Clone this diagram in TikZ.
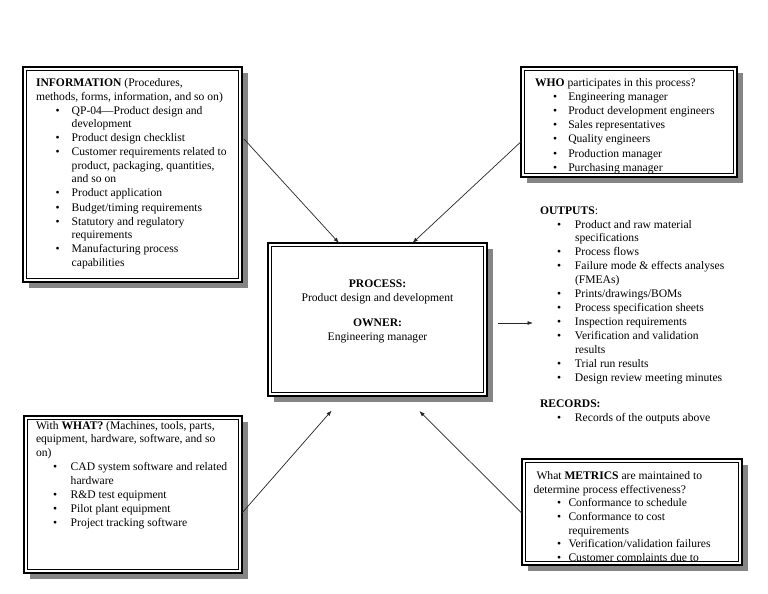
\documentclass[tikz,border=0pt]{standalone}
\usepackage{fontspec}
\setmainfont{Liberation Serif}
\usetikzlibrary{arrows.meta}
\newdimen\bulx \newdimen\txtx \newdimen\itemgap \newdimen\bulw
\newcommand\setbul[3]{\bulx=#1\relax\txtx=#2\relax\itemgap=#3\relax\bulw=\txtx\advance\bulw by -\bulx}
\newcommand\bul[1]{\par\vspace{\itemgap}\noindent\hangindent=\txtx\hangafter=1\hspace*{\bulx}\makebox[\bulw][l]{\textbullet}#1}
\newcommand\dbox[5]{%
  \fill[shadowc] (#2+6,#3+6) rectangle (#4+6,#5+6);
  \node[outerbox, minimum width={#4pt-#2pt}, minimum height={#5pt-#3pt}] (#1) at ({(#2+#4)/2},{(#3+#5)/2}) {};
  \draw[innerline] (#2+3.6,#3+3.6) rectangle (#4-3.6,#5-3.6);}
\begin{document}
\begin{tikzpicture}[x=1pt,y=-1pt,
  shadowc/.style={fill=black!48},
  outerbox/.style={rectangle, draw=black, line width=1.8pt, fill=white, inner sep=0pt, outer sep=0pt},
  innerline/.style={draw=black, line width=0.8pt},
  txt/.style={anchor=base west, inner sep=0pt, outer sep=0pt},
  conn/.style={draw=black!85, line width=0.7pt, -{Latex[length=5.5pt,width=4pt]}}]
\fill[white] (0,0) rectangle (768,594);
\useasboundingbox (0,0) rectangle (768,594);

\dbox{tl}{23}{67}{242}{282}
\dbox{tr}{521}{67}{737}{177}
\dbox{pr}{268}{243}{487}{396}
\dbox{bl}{24}{416}{242}{573}
\dbox{br}{522}{459}{742}{565}

% top-left text
\node[txt] (tltext) at (36,86.5) {\parbox[t]{250pt}{\fontsize{11.6}{13.5}\selectfont\setbul{19.5pt}{35.7pt}{0.6pt}%
\textbf{INFORMATION} (Procedures,\\ methods, forms, information, and so on)
\bul{QP-04—Product design and\\ development}
\bul{Product design checklist}
\bul{Customer requirements related to\\ product, packaging, quantities,\\ and so on}
\bul{Product application}
\bul{Budget/timing requirements}
\bul{Statutory and regulatory\\ requirements}
\bul{Manufacturing process\\ capabilities}}};

% top-right text
\begin{scope}
\clip (525,71) rectangle (733,173);
\node[txt] (trtext) at (535,86) {\parbox[t]{250pt}{\fontsize{11.6}{13.6}\selectfont\setbul{18pt}{33.3pt}{0.6pt}%
\textbf{WHO} participates in this process?
\bul{Engineering manager}
\bul{Product development engineers}
\bul{Sales representatives}
\bul{Quality engineers}
\bul{Production manager}
\bul{Purchasing manager}}};
\end{scope}

% process text
\node[anchor=base, inner sep=0pt] (prtext) at (377.5,287) {\parbox[t]{212pt}{\centering\fontsize{11.6}{14}\selectfont
\textbf{PROCESS:}\\ Product design and development\\[11.5pt] \textbf{OWNER:}\\ Engineering manager}};

% outputs text
\node[txt] (outtext) at (540,214) {\parbox[t]{220pt}{\fontsize{11.6}{13.5}\selectfont\setbul{17pt}{35pt}{0.6pt}%
\textbf{OUTPUTS}:
\bul{Product and raw material\\ specifications}
\bul{Process flows}
\bul{Failure mode \& effects analyses\\ (FMEAs)}
\bul{Prints/drawings/BOMs}
\bul{Process specification sheets}
\bul{Inspection requirements}
\bul{Verification and validation\\ results}
\bul{Trial run results}
\bul{Design review meeting minutes}
\par\vspace{12.1pt}\noindent\textbf{RECORDS:}
\bul{Records of the outputs above}}};

% bottom-left text
\node[txt] (bltext) at (36,429) {\parbox[t]{250pt}{\fontsize{11.6}{13.6}\selectfont\setbul{17pt}{34.7pt}{0.6pt}%
With \textbf{WHAT?} (Machines, tools, parts,\\ equipment, hardware, software, and so\\ on)
\bul{CAD system software and related\\ hardware}
\bul{R\&D test equipment}
\bul{Pilot plant equipment}
\bul{Project tracking software}}};

% bottom-right text
\begin{scope}
\clip (526,463) rectangle (738,561);
\node[txt] (brtext) at (533.5,479.5) {\parbox[t]{250pt}{\fontsize{11.6}{13.5}\selectfont\setbul{23.7pt}{35pt}{0.3pt}%
\hspace*{3pt}What \textbf{METRICS} are maintained to\\ determine process effectiveness?
\bul{Conformance to schedule}
\bul{Conformance to cost\\ requirements}
\bul{Verification/validation failures}
\bul{Customer complaints due to}}};
\end{scope}

% connectors
\coordinate (outtip) at (533,323);
\draw[conn] ([xshift=2pt,yshift=35.5pt]tl.east) -- ([xshift=-38.5pt]pr.north);
\draw[conn] ([yshift=-19.7pt]tr.west) -- ([xshift=35pt]pr.north);
\draw[conn] ([yshift=-18.5pt]bl.east) -- ([xshift=-45.8pt,yshift=-14.5pt]pr.south);
\draw[conn] ([yshift=-1.3pt]br.west) -- ([xshift=41.8pt,yshift=-15pt]pr.south);
\draw[conn] ([xshift=11pt,yshift=-3.5pt]pr.east) -- (outtip);
\end{tikzpicture}
\end{document}
